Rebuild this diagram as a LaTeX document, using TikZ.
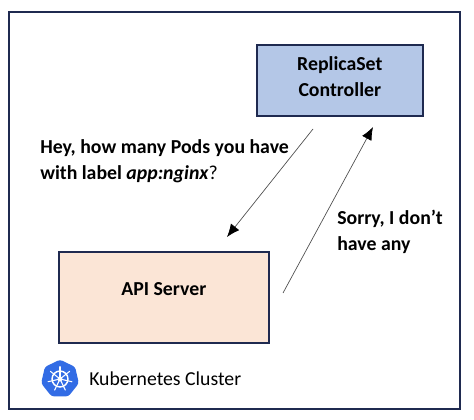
\documentclass[tikz,border=0pt]{standalone}
\usepackage{fontspec}
\setmainfont{Carlito}
\usetikzlibrary{arrows.meta,shapes.geometric}
\definecolor{framenavy}{HTML}{1F2A50}
\definecolor{logoblue}{HTML}{326CE5}
\definecolor{controllerblue}{HTML}{B4C7E7}
\definecolor{serverpeach}{HTML}{FBE5D6}
\tikzset{
  box/.style={draw=framenavy,line width=1.2pt,anchor=north west,inner sep=0pt,align=center,
    font=\bfseries\fontsize{14.85}{19.5}\selectfont},
  saying/.style={anchor=west,align=left,inner sep=0pt,font=\bfseries\fontsize{14.85}{19.5}\selectfont},
  msg/.style={-{Latex[length=3.4mm,width=2.8mm,color=black]},black!70,line width=0.5pt}
}
\begin{document}
\begin{tikzpicture}[x=0.75pt,y=-0.75pt]
  \useasboundingbox (0,0) rectangle (474,420);
  \fill[white] (0,0) rectangle (474,420);
  \node[draw=framenavy,line width=1.2pt,anchor=north west,inner sep=0pt,minimum width=338.25pt,minimum height=297.75pt] (cluster) at (8,11) {};
  \node[box,minimum width=124.5pt,minimum height=53.25pt,fill=controllerblue,text depth=5.5pt] (controller) at (256,44) {ReplicaSet\\Controller};
  \node[box,minimum width=157.5pt,minimum height=68.25pt,fill=serverpeach,text depth=12pt] (apiserver) at (58,251) {API Server};
  \node[saying] (question) at (40,161) {Hey, how many Pods you have\\with label \textit{app:nginx}{\mdseries ?}};
  \node[saying] (answer) at (337,232) {Sorry, I don’t\\have any};
  \coordinate (askstart) at (313,129);
  \coordinate (askend) at (227,237);
  \coordinate (replystart) at (283,293);
  \coordinate (replyend) at (373,127);
  \draw[msg] (askstart) -- (askend);
  \draw[msg] (replystart) -- (replyend);
  % logo, wheel on a heptagon
  \node[regular polygon,regular polygon sides=7,fill=logoblue,rounded corners=2pt,inner sep=0pt,minimum size=29pt] (logo) at (60,379) {};
  \draw[white,line width=1.1pt] (logo.center) circle (6pt);
  \foreach \a in {90,141.4,...,400}
    \draw[white,line width=0.8pt,line cap=round] (logo.center) -- ++(\a:9.2pt);
  \fill[white] (logo.center) circle (1.8pt);
  \node[anchor=west,inner sep=0pt,font=\fontsize{14.8}{17}\selectfont] (clusterlabel) at (89,379) {Kubernetes Cluster};
\end{tikzpicture}
\end{document}
